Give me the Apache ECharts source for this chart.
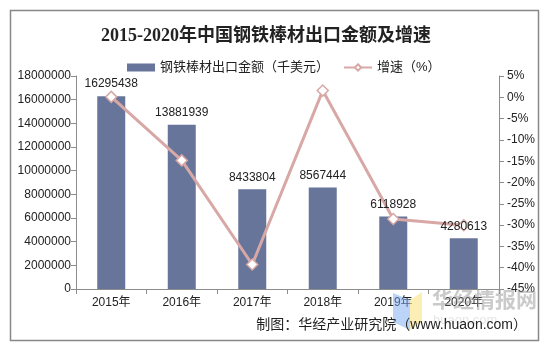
<!DOCTYPE html>
<html>
<head>
<meta charset="utf-8">
<style>
  html, body { margin: 0; padding: 0; background: #fff; }
  #chart { width: 548px; height: 349px; }
</style>
<script src="https://cdn.jsdelivr.net/npm/echarts@6/dist/echarts.min.js"></script>
</head>
<body>
<div id="chart"></div>
<script>
// 2015-2020 钢铁棒材出口金额（千美元）及同比增速（%）
const years = ['2015年', '2016年', '2017年', '2018年', '2019年', '2020年'];
const exportValue = [16295438, 13881939, 8433804, 8567444, 6118928, 4280613];
const growthRate = [0.1, -14.81, -39.25, 1.58, -28.58, -30.04];
const barName = '钢铁棒材出口金额（千美元）';
const lineName = '增速（%）';

const chart = echarts.init(document.getElementById('chart'), null, { renderer: 'canvas' });

const axisGray = '#8c8c8c';
const textColor = '#222';
const lineColor = '#d8a8a6';
const barColor = '#68759a';
const font = 'Liberation Sans, Arial, "Noto Sans CJK SC", sans-serif';

chart.setOption({
  animation: false,
  title: {
    text: '2015-2020年中国钢铁棒材出口金额及增速',
    left: 96,
    top: 22,
    textStyle: {
      fontFamily: '"Liberation Serif", "Noto Sans CJK SC", serif',
      fontWeight: 'bold',
      fontSize: 18,
      color: '#222'
    }
  },
  legend: {
    top: 56,
    left: 122,
    itemGap: 14,
    itemWidth: 28,
    itemHeight: 8,
    textStyle: { fontFamily: font, fontSize: 13, color: textColor },
    data: [
      { name: barName, icon: 'rect', itemStyle: { color: barColor } },
      { name: lineName }
    ]
  },
  grid: { left: 76, right: 49, top: 76, bottom: 60 },
  xAxis: {
    type: 'category',
    data: years,
    axisLine: { lineStyle: { color: axisGray } },
    axisTick: { show: true, alignWithLabel: false, length: 5, lineStyle: { color: axisGray } },
    axisLabel: { fontFamily: font, fontSize: 12, color: textColor, margin: 8 }
  },
  yAxis: [
    {
      type: 'value',
      min: 0,
      max: 18000000,
      interval: 2000000,
      splitLine: { show: false },
      axisLine: { show: true, lineStyle: { color: axisGray } },
      axisTick: { show: true, length: 5, lineStyle: { color: axisGray } },
      axisLabel: {
        fontFamily: font, fontSize: 12, color: textColor, margin: 5,
        formatter: (v) => String(v)
      }
    },
    {
      type: 'value',
      min: -45,
      max: 5,
      interval: 5,
      splitLine: { show: false },
      axisLine: { show: true, lineStyle: { color: axisGray } },
      axisTick: { show: true, length: 5, lineStyle: { color: axisGray } },
      axisLabel: { fontFamily: font, fontSize: 12, color: textColor, margin: 8, formatter: '{value}%' }
    }
  ],
  series: [
    {
      name: barName,
      type: 'bar',
      data: exportValue,
      barWidth: 28,
      itemStyle: { color: barColor },
      z: 2
    },
    {
      name: lineName,
      type: 'line',
      yAxisIndex: 1,
      data: growthRate,
      symbol: 'diamond',
      symbolSize: 11,
      lineStyle: { color: lineColor, width: 3 },
      itemStyle: { color: '#fff', borderColor: lineColor, borderWidth: 1.5 },
      z: 3
    },
    {
      // 数值标签层，叠放在折线之上
      name: 'valueLabels',
      type: 'bar',
      data: exportValue,
      barWidth: 28,
      barGap: '-100%',
      itemStyle: { color: 'rgba(0,0,0,0)' },
      label: {
        show: true,
        position: 'top',
        distance: 6,
        fontFamily: font,
        fontSize: 12,
        color: textColor
      },
      silent: true,
      z: 5
    }
  ],
  graphic: [
    {
      type: 'rect',
      shape: { x: 10.5, y: 10.5, width: 528, height: 330 },
      style: { fill: 'none', stroke: '#888', lineWidth: 1.5 },
      silent: true
    },
    // 水印标志
    {
      type: 'polygon',
      shape: { points: [[393, 293], [410, 300], [410, 330], [393, 322]] },
      style: { fill: 'rgba(120,170,240,0.5)' },
      silent: true, z: 10
    },
    {
      type: 'polygon',
      shape: { points: [[410, 300], [422, 292], [422, 322], [410, 330]] },
      style: { fill: 'rgba(250,225,120,0.55)' },
      silent: true, z: 10
    },
    {
      type: 'text',
      left: 432,
      top: 289,
      style: {
        text: '华经情报网',
        fontFamily: '"Noto Sans CJK SC", sans-serif',
        fontWeight: 'bold',
        fontSize: 21,
        fill: 'rgba(150,150,150,0.5)'
      },
      silent: true, z: 10
    },
    {
      type: 'text',
      left: 433,
      top: 314,
      style: {
        text: 'huaon.com',
        fontFamily: font,
        fontSize: 13,
        fill: 'rgba(170,170,170,0.3)'
      },
      silent: true, z: 10
    },
    {
      type: 'text',
      right: 21,
      top: 318,
      style: {
        text: '制图：华经产业研究院（www.huaon.com）',
        fontFamily: font,
        fontSize: 14,
        fill: '#222'
      },
      silent: true, z: 11
    }
  ]
});
</script>
</body>
</html>
